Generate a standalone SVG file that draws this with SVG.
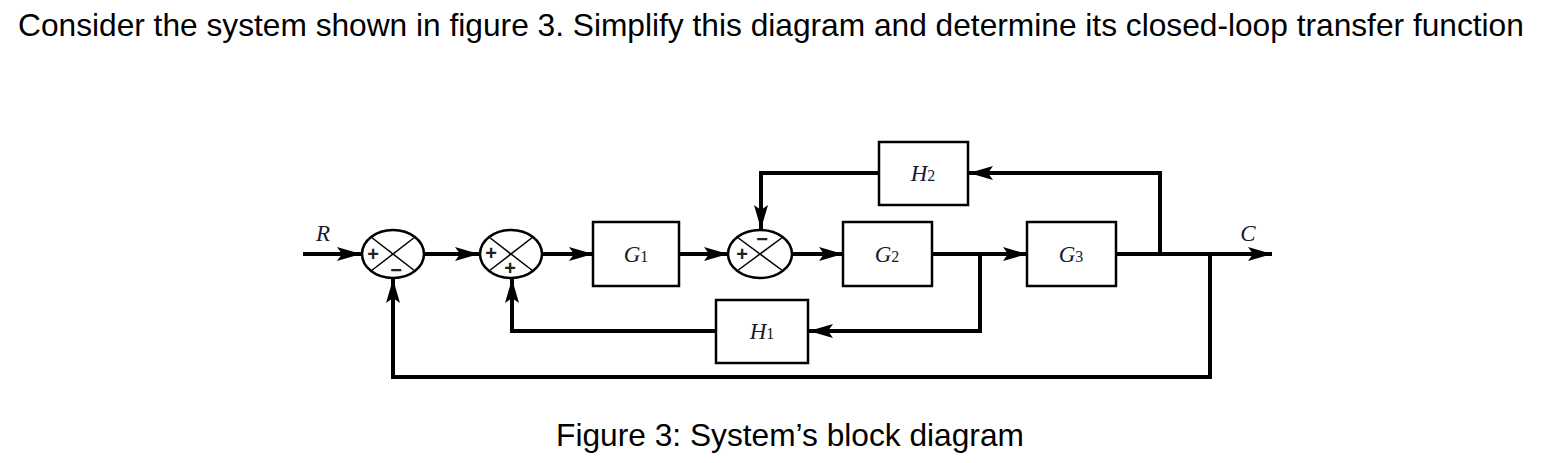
<svg xmlns="http://www.w3.org/2000/svg" width="1556" height="463" viewBox="0 0 1556 463">
<style>
.box{fill:#fff;stroke:#000;stroke-width:2.5}
.sum{fill:#fff;stroke:#000;stroke-width:2.5}
.x{stroke:#000;stroke-width:1.5}
.w{fill:none;stroke:#000;stroke-width:4}
.lbl{font-family:"Liberation Serif",serif;font-style:italic;font-size:23px;fill:#1a1a2e;text-anchor:middle}
.sub{font-size:16px;font-style:normal}
.sg{font-family:"Liberation Sans",sans-serif;font-size:20px;font-weight:bold;fill:#222;text-anchor:middle}
.t{font-family:"Liberation Sans",Arial,sans-serif;font-size:31.7px;fill:#000}
</style>
<defs>
<marker id="a" markerUnits="userSpaceOnUse" markerWidth="26" markerHeight="14" refX="24" refY="7" orient="auto">
<path d="M0,0 L24,7 L0,14 L5,7 Z" fill="#000"/>
</marker>
</defs>
<rect width="1556" height="463" fill="#fff"/>
<text class="t" x="18" y="36">Consider the system shown in figure 3. Simplify this diagram and determine its closed-loop transfer function</text>
<text class="t" x="790" y="446" text-anchor="middle">Figure 3: System’s block diagram</text>
<g id="connectors">
<line class="w" x1="303" y1="254" x2="361" y2="254" marker-end="url(#a)"/>
<line class="w" x1="425" y1="254" x2="479" y2="254" marker-end="url(#a)"/>
<line class="w" x1="543" y1="254" x2="593" y2="254" marker-end="url(#a)"/>
<line class="w" x1="679" y1="254" x2="728" y2="254" marker-end="url(#a)"/>
<line class="w" x1="792" y1="254" x2="843" y2="254" marker-end="url(#a)"/>
<line class="w" x1="932" y1="254" x2="1027" y2="254" marker-end="url(#a)"/>
<line class="w" x1="1116" y1="254" x2="1272" y2="254" marker-end="url(#a)"/>
<polyline class="w" points="980,254 980,331 809,331" marker-end="url(#a)"/>
<polyline class="w" points="716,331 512,331 512,279" marker-end="url(#a)"/>
<polyline class="w" points="1160,254 1160,173 969,173" marker-end="url(#a)"/>
<polyline class="w" points="879,173 761,173 761,229" marker-end="url(#a)"/>
<polyline class="w" points="1210,254 1210,377 393,377 393,279" marker-end="url(#a)"/>
</g>
<text class="lbl" x="323" y="241">R</text>
<text class="lbl" x="1248" y="241">C</text>
<g id="sum1">
<ellipse class="sum" cx="393" cy="254" rx="31" ry="24"/>
<line class="x" x1="371" y1="237" x2="415" y2="271"/><line class="x" x1="415" y1="237" x2="371" y2="271"/>
<text class="sg" x="373" y="261">+</text><text class="sg" x="396" y="277">−</text>
</g>
<g id="sum2">
<ellipse class="sum" cx="511" cy="254" rx="31" ry="24"/>
<line class="x" x1="489" y1="237" x2="533" y2="271"/><line class="x" x1="533" y1="237" x2="489" y2="271"/>
<text class="sg" x="491" y="260">+</text><text class="sg" x="510" y="275">+</text>
</g>
<g id="sum3">
<ellipse class="sum" cx="760" cy="254" rx="32" ry="24"/>
<line class="x" x1="737" y1="237" x2="783" y2="271"/><line class="x" x1="783" y1="237" x2="737" y2="271"/>
<text class="sg" x="742" y="261">+</text><text class="sg" x="762" y="246">−</text>
</g>
<g id="G1"><rect class="box" x="593" y="222" width="86" height="64"/><text class="lbl" x="636" y="262">G<tspan class="sub">1</tspan></text></g>
<g id="G2"><rect class="box" x="843" y="222" width="89" height="64"/><text class="lbl" x="887" y="262">G<tspan class="sub">2</tspan></text></g>
<g id="G3"><rect class="box" x="1027" y="222" width="89" height="64"/><text class="lbl" x="1071" y="262">G<tspan class="sub">3</tspan></text></g>
<g id="H1"><rect class="box" x="716" y="300" width="92" height="63"/><text class="lbl" x="762" y="339">H<tspan class="sub">1</tspan></text></g>
<g id="H2"><rect class="box" x="879" y="142" width="89" height="63"/><text class="lbl" x="923" y="181">H<tspan class="sub">2</tspan></text></g>
</svg>
